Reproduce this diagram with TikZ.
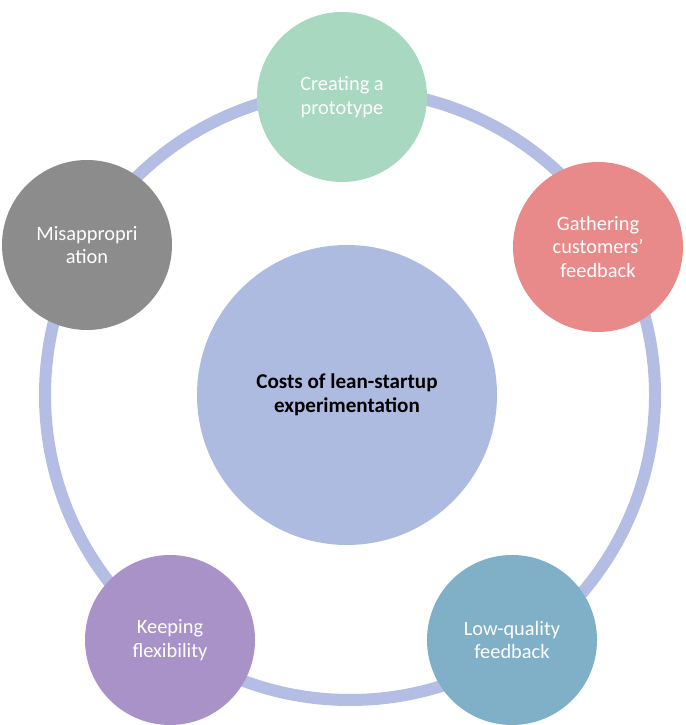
\documentclass[tikz,border=0pt]{standalone}
\usepackage{fontspec}
\setmainfont{Carlito}
\definecolor{ringc}{HTML}{B4BEE4}
\definecolor{corec}{HTML}{AEBBE0}
\definecolor{protoc}{HTML}{A8D8C0}
\definecolor{gatherc}{HTML}{E88A8A}
\definecolor{lowc}{HTML}{7FB0C8}
\definecolor{keepc}{HTML}{A892C8}
\definecolor{misc}{HTML}{8C8C8C}
\tikzset{
  cost/.style={circle, minimum size=3.4cm, inner sep=0pt, align=center,
    text=white, font=\fontsize{11.6}{13.5}\selectfont}
}
\begin{document}
\begin{tikzpicture}
\useasboundingbox (0,0) rectangle (13.7,14.5);
% ring
\draw[ringc, line width=0.24cm] (7.0,6.6) circle [radius=6.1];
% core
\node[circle, fill=corec, minimum size=6cm, align=center,
  font=\bfseries\fontsize{12}{13.5}\selectfont] (core) at (6.94,6.6)
  {Costs of lean-startup\\experimentation};
% satellites
\node[cost, fill=protoc] (proto) at (6.84,12.56) {Creating a\\prototype};
\node[cost, fill=gatherc] (gather) at (11.96,9.56) {Gathering\\customers’\\feedback};
\node[cost, fill=lowc] (low) at (10.24,1.7) {Low-quality\\feedback};
\node[cost, fill=keepc] (keep) at (3.4,1.7) {Keeping\\flexibility};
\node[cost, fill=misc] (mis) at (1.74,9.6) {Misappropri\\ation};
\end{tikzpicture}
\end{document}
